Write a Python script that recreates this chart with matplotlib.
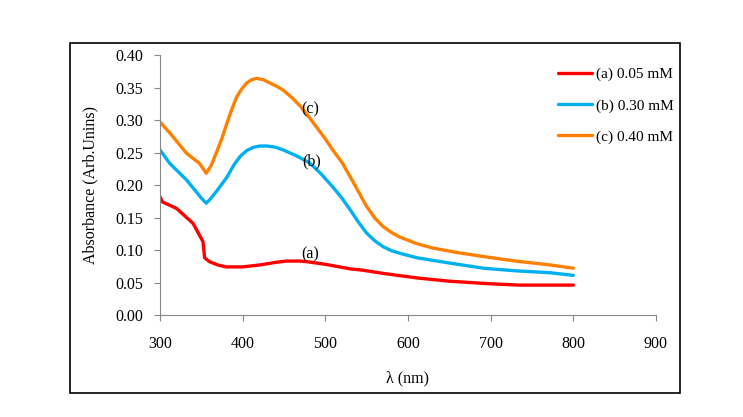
import matplotlib.pyplot as plt
from matplotlib.patches import Rectangle

plt.rcParams['font.family'] = ['Liberation Serif', 'DejaVu Serif']

# (a) 0.05 mM
wl_a = [300, 303, 320, 340, 352, 354, 360, 370, 380, 400, 421, 440, 453, 469, 478, 500, 530, 545, 570, 611, 650, 700, 735, 770, 800]
abs_a = [0.182, 0.174, 0.164, 0.141, 0.113, 0.088, 0.082, 0.077, 0.074, 0.074, 0.077, 0.081, 0.083, 0.083, 0.082, 0.078, 0.071, 0.069, 0.064, 0.057, 0.052, 0.048, 0.046, 0.046, 0.046]

# (b) 0.30 mM
wl_b = [300, 312, 332, 350, 356, 362, 370, 381, 390, 397, 405, 413, 421, 430, 440, 449, 465, 481, 495, 509, 520, 530, 540, 550, 560, 570, 580, 590, 611, 650, 691, 730, 772, 800]
abs_b = [0.254, 0.233, 0.208, 0.180, 0.172, 0.180, 0.193, 0.212, 0.232, 0.244, 0.253, 0.258, 0.260, 0.260, 0.258, 0.254, 0.245, 0.234, 0.217, 0.197, 0.180, 0.162, 0.143, 0.126, 0.114, 0.105, 0.099, 0.095, 0.088, 0.080, 0.072, 0.068, 0.065, 0.061]

# (c) 0.40 mM
wl_c = [300, 312, 332, 348, 356, 362, 368, 375, 381, 387, 393, 399, 405, 411, 417, 425, 433, 441, 449, 460, 470, 480, 490, 500, 509, 520, 530, 540, 550, 560, 570, 580, 590, 610, 630, 660, 691, 730, 772, 800]
abs_c = [0.297, 0.280, 0.249, 0.233, 0.218, 0.230, 0.249, 0.272, 0.295, 0.317, 0.336, 0.348, 0.357, 0.362, 0.364, 0.362, 0.357, 0.352, 0.346, 0.334, 0.321, 0.305, 0.288, 0.271, 0.254, 0.235, 0.213, 0.190, 0.167, 0.149, 0.136, 0.127, 0.120, 0.110, 0.103, 0.096, 0.090, 0.083, 0.077, 0.072]

series = [
    (wl_a, abs_a, '#FF0000', '(a) 0.05 mM', '(a)', 482, 0.094),
    (wl_b, abs_b, '#00B0F0', '(b) 0.30 mM', '(b)', 484, 0.237),
    (wl_c, abs_c, '#FF8000', '(c) 0.40 mM', '(c)', 482, 0.316),
]

fig = plt.figure(figsize=(7.43, 4.17), dpi=100)
ax = fig.add_axes([0.2153, 0.2446, 0.6676, 0.6235])

for wl, ab, col, lab, short, tx, ty in series:
    ax.plot(wl, ab, color=col, lw=2.4, label=lab, solid_capstyle='round', solid_joinstyle='round')
    ax.text(tx, ty, short, fontsize=11.5, ha='center', va='center')

ax.set_xlim(300, 900)
ax.set_ylim(0, 0.40)
ax.set_xticks(range(300, 901, 100))
ax.set_yticks([i * 0.05 for i in range(9)])
ax.set_yticklabels(['%.2f' % (i * 0.05) for i in range(9)])
ax.tick_params(labelsize=11.5, color='#888888', direction='out', length=4)
ax.tick_params(axis='x', pad=11)
ax.tick_params(axis='y', pad=8)
for s in ['top', 'right']:
    ax.spines[s].set_visible(False)
for s in ['left', 'bottom']:
    ax.spines[s].set_color('#888888')

ax.set_xlabel('λ (nm)', fontsize=11.5, labelpad=13)
ax.set_ylabel('Absorbance (Arb.Unins)', fontsize=11.5, labelpad=12)

ax.legend(loc='upper left', bbox_to_anchor=(0.751, 0.838), bbox_transform=fig.transFigure,
          frameon=False, fontsize=11, handlelength=2.2, handletextpad=0.3,
          labelspacing=1.13, borderaxespad=0, borderpad=0)

fig.patches.append(Rectangle((0.0942, 0.0576), 0.821, 0.839, transform=fig.transFigure,
                             fill=False, edgecolor='black', lw=1.2))

fig.savefig('out.png', dpi=100)
